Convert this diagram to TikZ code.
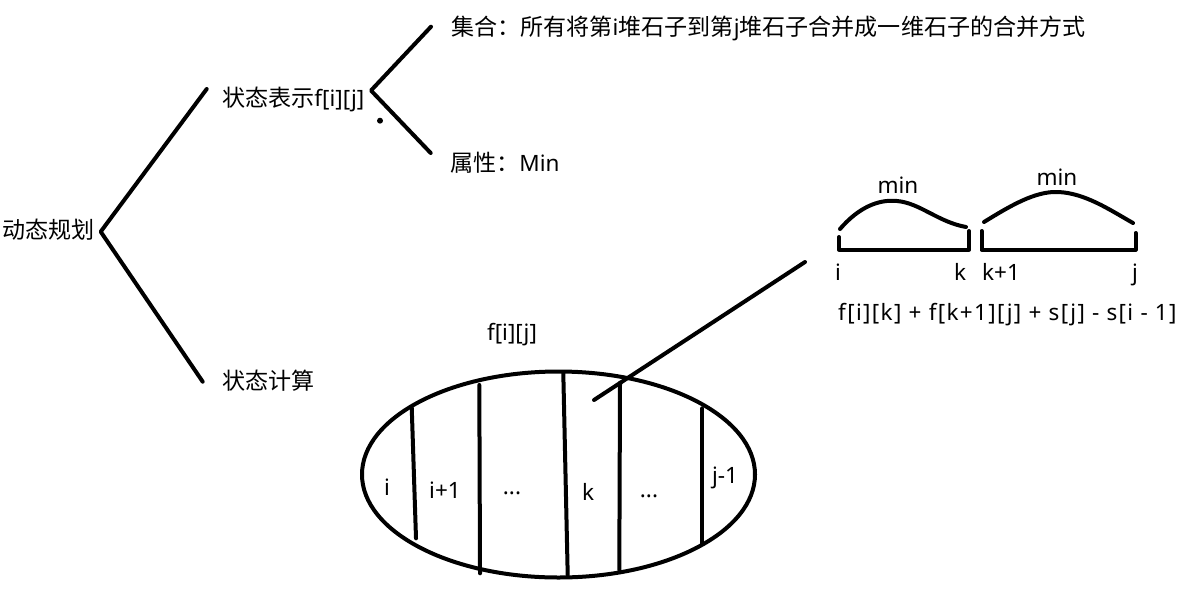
\documentclass[tikz,border=0pt]{standalone}
\usepackage{fontspec}
\setmainfont{Noto Sans}
\newfontfamily\cjk[Scale=1.025]{Noto Sans CJK SC}
\newfontfamily\wide[LetterSpace=6]{Noto Sans}
\begin{document}
\begin{tikzpicture}[x=1pt,y=-1pt,
  stroke/.style={line width=4pt, line cap=round, line join=round},
  lbl/.style={inner sep=0pt, anchor=base west, font=\fontsize{22.5}{27}\selectfont},
  clbl/.style={inner sep=0pt, anchor=base, font=\fontsize{22.5}{27}\selectfont}]
\useasboundingbox[fill=white] (0,0) rectangle (1182,600);

% texts of the tree
\node[lbl] (dp) at (2,238) {{\cjk 动态规划}};
\node[lbl] (rep) at (222,106) {{\cjk 状态表示}f[i][j]};
\node[lbl] (calc) at (222,389) {{\cjk 状态计算}};
\node[lbl] (set) at (451,35) {{\cjk 集合：所有将第}i{\cjk 堆石子到第}j{\cjk 堆石子合并成一维石子的合并方式}};
\node[lbl] (attr) at (450,171) {{\cjk 属性：}Min};

% tree branches
\coordinate (v1) at (100.7,231.7);
\coordinate (v1a) at (206.7,89);
\coordinate (v1b) at (202.7,381.7);
\coordinate (v2) at (371,90.5);
\coordinate (v2a) at (431,26.7);
\coordinate (v2b) at (430.7,153);
\draw[stroke] (v1a) -- (v1) -- (v1b);
\draw[stroke] (v2a) -- (v2) -- (v2b);
\fill (380,120.7) circle[radius=3pt];

% ellipse with parts
\draw[stroke] (558.5,474.5) ellipse [x radius=196.5pt, y radius=103pt];
\coordinate (l1t) at (411.7,406.7); \coordinate (l1b) at (416,538.3);
\coordinate (l2t) at (479.3,385);   \coordinate (l2b) at (480,573.3);
\coordinate (l3t) at (563.3,373.3); \coordinate (l3b) at (567.7,575);
\coordinate (l4t) at (620,382.7);   \coordinate (l4b) at (619.3,570);
\coordinate (l5t) at (702.3,408.3); \coordinate (l5b) at (702.3,543.3);
\draw[stroke] (l1t) -- (l1b);
\draw[stroke] (l2t) -- (l2b);
\draw[stroke] (l3t) -- (l3b);
\draw[stroke] (l4t) -- (l4b);
\draw[stroke] (l5t) -- (l5b);

\node[clbl] (fij) at (512,340) {f[i][j]};
\node[clbl] (ci) at (387,495) {i};
\node[clbl] (ci1) at (445,498) {i+1};
\node[clbl] (cd1) at (512,494) {...};
\node[clbl] (ck) at (588,500) {k};
\node[clbl] (cd2) at (649,497) {...};
\node[clbl] (cj1) at (725,483) {j-1};

% connector
\coordinate (cs) at (805,262);
\coordinate (ce) at (594,400);
\draw[stroke] (cs) -- (ce);

% split of the interval
\draw[stroke] (839,237) -- (839,249.5) -- (969,249.5) -- (969,231);
\draw[stroke] (981.5,231) -- (981.5,249.5) -- (1135.5,249.5) -- (1135.5,233);
\draw[stroke] (840,229) .. controls (858,208) and (878,199) .. (897,201)
  .. controls (920,203) and (938,222) .. (966,227);
\draw[stroke] (984,222) .. controls (1010,206) and (1035,191) .. (1058,192)
  .. controls (1085,193) and (1110,210) .. (1133,223);

\node[clbl] (min1) at (898,193) {min};
\node[clbl] (min2) at (1057,185) {min};
\node[clbl] (ri) at (838,280) {i};
\node[clbl] (rk) at (960,280) {k};
\node[clbl] (rk1) at (1001,280) {k+1};
\node[clbl] (rj) at (1135,280) {j};
\node[lbl] (formula) at (838,320) {\wide f[i][k] + f[k+1][j] + s[j] - s[i - 1]};
\end{tikzpicture}
\end{document}
